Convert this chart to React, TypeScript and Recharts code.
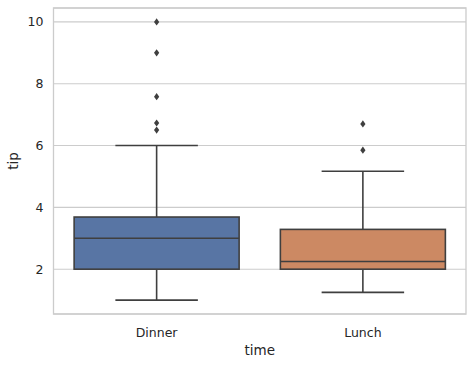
import { ComposedChart, Bar, XAxis, YAxis, CartesianGrid, ReferenceArea, Label } from "recharts";

const categories = ["Dinner", "Lunch"];
const q1s = [2.0, 2.0];
const medians = [3.0, 2.25];
const q3s = [3.6875, 3.2875];
const whiskerLows = [1.0, 1.25];
const whiskerHighs = [6.0, 5.17];
const outliers = [
  [6.5, 6.73, 7.58, 9.0, 10.0],
  [5.85, 6.7],
];
const yTicks = [2, 4, 6, 8, 10];

const fills = ["#5875a4", "#cc8963"];
const lineColor = "#3f3f3f";
const textColor = "#262626";
const font = "DejaVu Sans, sans-serif";

const data = categories.map((time, i) => ({
  time,
  box: [q1s[i], q3s[i]],
  median: medians[i],
  lo: whiskerLows[i],
  hi: whiskerHighs[i],
  fliers: outliers[i],
}));

// box, whiskers and fliers drawn from the bar geometry (q1..q3 in pixels)
const BoxShape = (props: any) => {
  const { x, y, width, height, payload, index } = props;
  const [q1, q3] = payload.box;
  const unit = height / (q3 - q1);
  const py = (v: number) => y + (q3 - v) * unit;
  const cx = x + width / 2;
  const cap = width / 4;
  return (
    <g>
      <line x1={cx} x2={cx} y1={py(q3)} y2={py(payload.hi)} stroke={lineColor} strokeWidth={1.6} />
      <line x1={cx} x2={cx} y1={py(q1)} y2={py(payload.lo)} stroke={lineColor} strokeWidth={1.6} />
      <line x1={cx - cap} x2={cx + cap} y1={py(payload.hi)} y2={py(payload.hi)} stroke={lineColor} strokeWidth={1.6} />
      <line x1={cx - cap} x2={cx + cap} y1={py(payload.lo)} y2={py(payload.lo)} stroke={lineColor} strokeWidth={1.6} />
      <rect x={x} y={y} width={width} height={height} fill={fills[index]} stroke={lineColor} strokeWidth={1.6} />
      <line x1={x} x2={x + width} y1={py(payload.median)} y2={py(payload.median)} stroke={lineColor} strokeWidth={1.6} />
      {payload.fliers.map((v: number, k: number) => {
        const fy = py(v);
        return (
          <path
            key={k}
            d={`M${cx},${fy - 3.6} L${cx + 2.6},${fy} L${cx},${fy + 3.6} L${cx - 2.6},${fy} Z`}
            fill={lineColor}
          />
        );
      })}
    </g>
  );
};

const YLabel = (props: any) => {
  const { viewBox } = props;
  const lx = 13;
  const ly = viewBox.y + viewBox.height / 2;
  return (
    <text
      x={lx}
      y={ly}
      transform={`rotate(-90 ${lx} ${ly})`}
      textAnchor="middle"
      dominantBaseline="central"
      fill={textColor}
      fontSize={13.5}
      fontFamily={font}
    >
      tip
    </text>
  );
};

export default function App() {
  return (
    <div style={{ position: "absolute", left: 0, top: 0, background: "#fff" }}>
      <ComposedChart
        width={474}
        height={365}
        data={data}
        margin={{ top: 8, right: 8, bottom: 0, left: 0 }}
        barCategoryGap="10%"
      >
        <CartesianGrid horizontal vertical={false} stroke="#cccccc" strokeWidth={1.1} />
        <ReferenceArea y1={0.55} y2={10.45} fill="none" stroke="#cccccc" strokeWidth={1.3} />
        <XAxis
          dataKey="time"
          height={51}
          tickLine={false}
          axisLine={false}
          tickSize={0}
          tickMargin={14}
          tick={{ fill: textColor, fontSize: 12.5, fontFamily: font }}
        >
          <Label
            value="time"
            position="insideBottom"
            offset={10}
            fill={textColor}
            fontSize={13.5}
            fontFamily={font}
          />
        </XAxis>
        <YAxis
          type="number"
          width={53.5}
          domain={[0.55, 10.45]}
          ticks={yTicks}
          allowDataOverflow
          tickLine={false}
          axisLine={false}
          tickSize={0}
          tickMargin={10}
          tick={{ fill: textColor, fontSize: 12.5, fontFamily: font }}
        >
          <Label content={<YLabel />} />
        </YAxis>
        <Bar dataKey="box" shape={<BoxShape />} isAnimationActive={false} />
      </ComposedChart>
    </div>
  );
}
